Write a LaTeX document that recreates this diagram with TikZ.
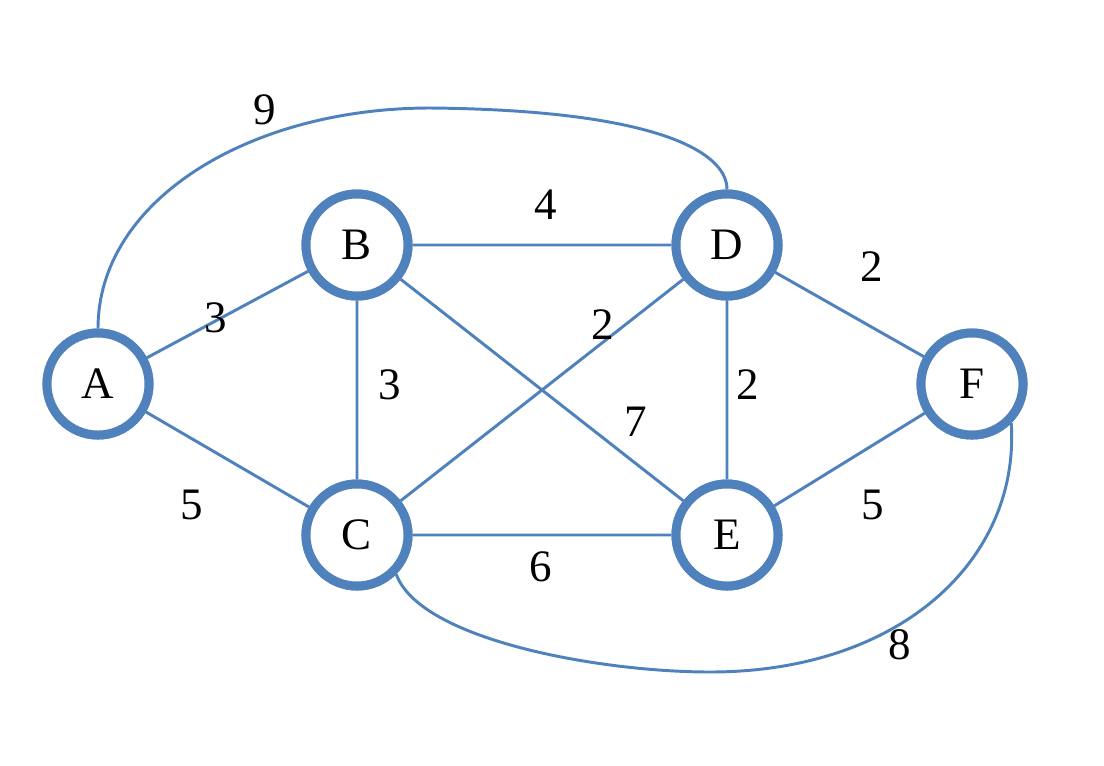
\documentclass[tikz,border=0pt]{standalone}
\usepackage{fontspec}
\setmainfont{Liberation Serif}
\definecolor{gb}{RGB}{79,129,189}
\begin{document}
\begin{tikzpicture}[x=0.025cm,y=-0.025cm,
  vert/.style={circle,draw=gb,line width=6.4pt,fill=white,minimum size=2.55cm,inner sep=0pt,font=\fontsize{32}{36}\selectfont},
  edge/.style={draw=gb,line width=2.1pt},
  wt/.style={font=\fontsize{32}{36}\selectfont}]
\useasboundingbox (0,0) rectangle (1104,765);
\coordinate (top9) at (430,108);
\coordinate (bot8) at (710,672);
\node[vert] (A) at (98,384) {A};
\node[vert] (B) at (357,245) {B};
\node[vert] (C) at (357,535) {C};
\node[vert] (D) at (727,245) {D};
\node[vert] (E) at (727,535) {E};
\node[vert] (F) at (972,384) {F};
\begin{scope}[on background layer/.style={}]
\end{scope}
\path[edge] (A) -- (B) (A) -- (C) (B) -- (D) (B) -- (C) (B) -- (E) (C) -- (D) (D) -- (E) (C) -- (E) (D) -- (F) (E) -- (F);
\path[edge] (A.north) .. controls (98,200) and (250,108) .. (top9) .. controls (650,110) and (727,150) .. (D.north);
\path[edge] (C.-45) .. controls (420,640) and (600,672) .. (bot8) .. controls (900,672) and (1020,560) .. (F.-45);
\foreach \n in {A,B,C,D,E,F} \node[vert] at (\n) {\n};
\node[wt] (w1) at (265,110) {9};
\node[wt] (w2) at (546,205) {4};
\node[wt] (w3) at (872,267) {2};
\node[wt] (w4) at (216,318) {3};
\node[wt] (w5) at (603,325) {2};
\node[wt] (w6) at (390,385) {3};
\node[wt] (w7) at (748,385) {2};
\node[wt] (w8) at (636,422) {7};
\node[wt] (w9) at (192,505) {5};
\node[wt] (w10) at (873,505) {5};
\node[wt] (w11) at (541,567) {6};
\node[wt] (w12) at (900,645) {8};
\end{tikzpicture}
\end{document}
